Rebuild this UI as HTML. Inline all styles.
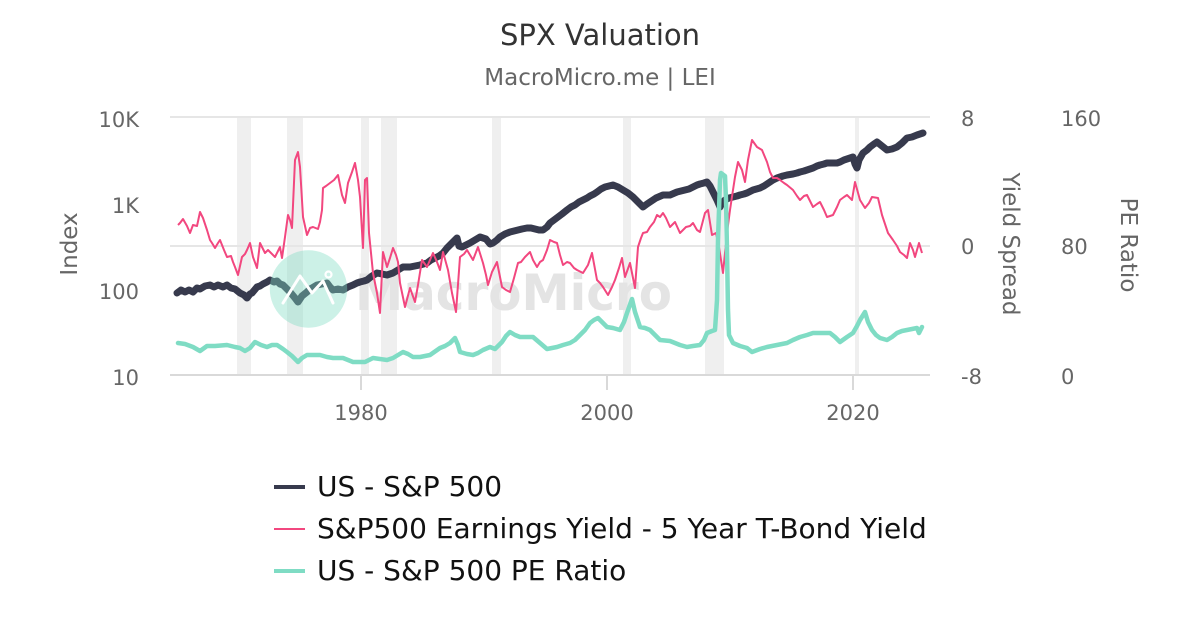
<!DOCTYPE html>
<html><head><meta charset="utf-8"><style>
html,body{margin:0;padding:0;background:#fff;}
svg{display:block;font-family:"DejaVu Sans","Liberation Sans",sans-serif;}
</style></head><body>
<svg width="1200" height="630" viewBox="0 0 1200 630" xmlns="http://www.w3.org/2000/svg">
<rect x="0" y="0" width="1200" height="630" fill="#fff"/>
<!-- titles -->
<text x="600" y="45" text-anchor="middle" font-size="29" fill="#333">SPX Valuation</text>
<text x="600" y="85" text-anchor="middle" font-size="23" fill="#666">MacroMicro.me | LEI</text>

<!-- recession bands -->
<g fill="#efefef">
<rect x="237" y="117" width="14" height="258"/>
<rect x="287" y="117" width="16" height="258"/>
<rect x="361" y="117" width="8" height="258"/>
<rect x="381" y="117" width="16" height="258"/>
<rect x="492" y="117" width="9" height="258"/>
<rect x="623" y="117" width="8" height="258"/>
<rect x="705" y="117" width="19" height="258"/>
<rect x="855" y="117" width="4" height="258"/>
</g>

<!-- gridlines -->
<g stroke="#e6e6e6" stroke-width="2">
<line x1="170" y1="117" x2="930" y2="117"/>
<line x1="170" y1="246" x2="930" y2="246"/>
</g>
<line x1="170" y1="375" x2="930" y2="375" stroke="#d9d9d9" stroke-width="2"/>
<g stroke="#d9d9d9" stroke-width="2">
<line x1="361" y1="375" x2="361" y2="390"/>
<line x1="607" y1="375" x2="607" y2="390"/>
<line x1="853" y1="375" x2="853" y2="390"/>
</g>

<!-- watermark text -->
<text x="355" y="310" font-size="50" font-weight="bold" fill="#e4e4e4" textLength="317" lengthAdjust="spacingAndGlyphs">MacroMicro</text>

<!-- S&P 500 -->
<polyline fill="none" stroke="#373a4d" stroke-width="7" stroke-linejoin="round" stroke-linecap="round" points="177,293 181,290 185,292 189,290 193,292 197,288 200,289 205,286 210,285 214,287 218,285 223,287 227,285 231,288 235,289 240,293 244,295 247,298 250,294 252,293 257,287 260,286 263,284 267,282 270,280 274,282 277,281 280,284 283,285 287,289 290,292 295,298 298,302 302,296 307,292 310,289 312,288 317,285 322,284 327,283 330,287 333,290 338,289 343,290 348,287 353,285 357,283 360,282 364,281 367,280 372,276 377,273 382,274 387,275 393,273 398,270 403,267 410,267 415,266 420,265 427,263 431,260 435,258 439,256 443,253 447,248 450,245 454,241 457,238 459,246 462,247 466,245 470,243 475,240 480,237 486,239 490,244 493,243 497,240 500,237 505,234 510,232 514,231 518,230 522,229 527,228 531,228 535,229 539,230 543,230 547,227 550,223 554,220 558,217 562,214 567,210 571,207 575,205 579,202 583,200 587,198 590,196 594,194 597,192 601,189 605,187 609,186 613,185 618,187 623,190 628,193 633,197 638,202 643,207 647,204 650,202 656,198 663,195 670,195 677,192 681,191 685,190 689,189 693,187 697,185 700,184 704,183 707,182 710,186 713,192 715,196 717,200 720,207 722,203 725,200 729,198 733,197 737,196 740,195 744,194 747,193 753,190 760,188 764,186 767,184 770,182 773,180 777,178 780,177 783,176 787,175 793,174 797,173 800,172 804,171 807,170 810,169 813,168 817,166 820,165 824,164 827,163 833,163 837,163 840,162 844,160 847,159 850,158 853,157 855,164 857,168 859,160 863,153 867,150 870,147 874,144 877,142 882,146 887,150 892,149 897,147 902,143 907,138 912,137 917,135 920,134 923,133"/>

<!-- Yield spread -->
<polyline fill="none" stroke="#f2477f" stroke-width="2" stroke-linejoin="round" points="178,225 180,223 183,219 187,226 190,233 193,225 197,226 200,212 203,218 207,230 210,240 212,243 215,248 218,243 220,240 224,250 227,257 231,256 233,262 235,267 238,275 242,257 245,254 247,250 250,243 253,257 257,268 260,243 263,249 265,253 268,250 270,252 275,257 278,251 280,247 282,258 285,237 288,215 290,220 292,228 295,160 298,152 300,167 303,217 307,235 310,228 313,227 318,229 320,222 322,210 323,188 326,186 330,183 334,180 338,175 342,195 345,203 348,183 352,172 355,163 358,180 360,197 363,248 365,180 367,178 369,233 373,273 377,293 380,313 383,252 387,267 390,258 393,248 396,255 398,262 400,283 405,307 410,288 415,302 418,285 422,260 427,267 430,260 433,253 437,262 440,270 443,252 448,270 452,293 456,312 460,257 464,254 467,250 470,255 473,260 478,247 483,263 486,275 488,285 492,272 497,262 502,287 506,290 510,292 514,278 518,263 521,262 525,257 530,252 533,260 537,267 540,262 543,260 547,250 550,240 554,242 557,243 560,255 563,265 567,262 570,263 574,268 577,270 583,273 588,265 592,253 597,280 600,283 603,287 608,295 612,287 615,280 619,268 622,258 625,277 630,263 635,288 638,247 641,238 643,233 647,232 650,227 654,222 657,215 660,217 663,213 666,218 670,227 675,222 680,233 686,227 690,226 693,223 697,230 700,232 705,213 708,210 712,235 716,233 719,247 723,273 727,233 730,210 733,190 735,177 738,162 742,170 745,182 748,160 752,140 757,147 762,150 767,162 770,172 773,178 777,178 780,180 784,183 787,185 793,190 797,196 800,200 804,196 807,195 813,207 817,204 820,202 824,210 827,217 833,215 837,207 840,200 844,197 847,195 852,200 855,182 860,200 865,208 869,203 872,197 878,198 882,215 885,224 888,233 893,240 897,246 900,252 904,255 907,258 910,243 913,250 915,257 919,243 922,253"/>

<!-- PE ratio -->
<polyline fill="none" stroke="#7fdcc4" stroke-width="4.5" stroke-linejoin="round" stroke-linecap="round" points="178,343 185,344 193,347 200,351 207,346 215,346 227,345 235,347 240,348 245,351 250,348 255,342 261,345 267,347 272,345 277,345 283,349 287,352 292,356 298,362 302,358 307,355 313,355 320,355 327,357 333,358 343,358 353,362 360,362 365,362 369,360 373,358 380,359 387,360 393,358 398,355 403,352 408,354 413,357 420,357 430,355 440,348 445,346 450,343 455,338 458,345 460,352 467,354 473,355 478,353 483,350 490,347 495,349 502,342 506,336 510,332 515,335 520,337 527,337 533,337 540,343 547,349 552,348 557,347 563,345 570,343 575,340 580,335 585,330 590,323 594,320 598,318 602,322 607,327 613,328 620,330 624,322 627,313 632,299 635,312 640,327 645,328 650,330 655,335 660,340 670,341 680,345 687,347 693,346 700,345 704,340 707,333 712,331 715,330 717,300 718,240 720,180 721,173 725,176 726,200 727,250 728,310 729,335 733,343 740,346 747,348 752,352 760,349 767,347 777,345 787,343 793,340 800,337 807,335 813,333 822,333 830,333 835,337 840,342 847,337 853,333 857,326 860,320 865,312 868,322 872,330 876,335 880,338 887,340 892,337 897,333 902,331 907,330 912,329 917,328 919,333 922,327"/>

<!-- watermark logo circle -->
<circle cx="308.5" cy="289" r="38.7" fill="#7fdcc4" fill-opacity="0.4"/>
<polyline points="283,303 300,276 312,293 323,281 333,303" fill="none" stroke="#fff" stroke-width="3" stroke-linejoin="round" stroke-linecap="round"/>
<circle cx="328.5" cy="274.5" r="3" fill="none" stroke="#fff" stroke-width="2.2"/>

<!-- left axis labels -->
<g font-size="21" fill="#666" text-anchor="end">
<text x="139" y="127">10K</text>
<text x="139" y="213">1K</text>
<text x="139" y="299">100</text>
<text x="139" y="385">10</text>
</g>
<text transform="translate(77,244) rotate(-90)" text-anchor="middle" font-size="23" fill="#666">Index</text>

<!-- right axes labels -->
<g font-size="21" fill="#666">
<text x="961" y="126">8</text>
<text x="961" y="254">0</text>
<text x="961" y="384">-8</text>
<text x="1061" y="126">160</text>
<text x="1061" y="254">80</text>
<text x="1061" y="384">0</text>
</g>
<text transform="translate(1003,244) rotate(90)" text-anchor="middle" font-size="23" fill="#666">Yield Spread</text>
<text transform="translate(1121,245) rotate(90)" text-anchor="middle" font-size="23" fill="#666">PE Ratio</text>

<!-- x axis labels -->
<g font-size="21" fill="#666" text-anchor="middle">
<text x="361" y="420">1980</text>
<text x="607" y="420">2000</text>
<text x="853" y="420">2020</text>
</g>

<!-- legend -->
<line x1="274" y1="487" x2="305" y2="487" stroke="#373a4d" stroke-width="4"/>
<line x1="274" y1="529" x2="305" y2="529" stroke="#f2477f" stroke-width="2"/>
<line x1="274" y1="571" x2="305" y2="571" stroke="#7fdcc4" stroke-width="4"/>
<g font-size="28" fill="#111">
<text x="317" y="496">US - S&amp;P 500</text>
<text x="317" y="538">S&amp;P500 Earnings Yield - 5 Year T-Bond Yield</text>
<text x="317" y="580">US - S&amp;P 500 PE Ratio</text>
</g>
</svg>
</body></html>
